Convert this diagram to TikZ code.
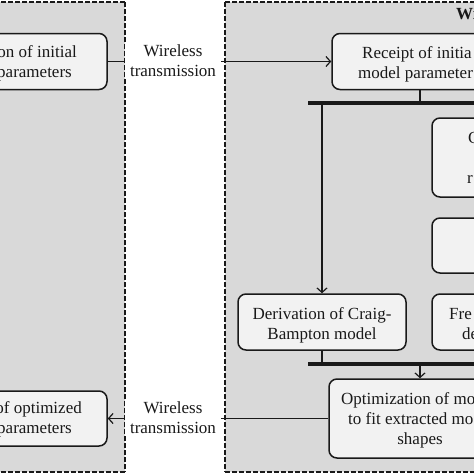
\documentclass[tikz,border=0pt]{standalone}
\usepackage{fontspec}
\setmainfont{Liberation Serif}
\usetikzlibrary{arrows.meta}
\definecolor{bggray}{RGB}{217,217,217}
\definecolor{boxfill}{RGB}{242,242,242}
\definecolor{ink}{RGB}{25,25,25}
\begin{document}
\begin{tikzpicture}[x=1pt,y=-1pt,font=\fontsize{17}{20}\selectfont,
  regionfill/.style={fill=bggray,draw=none},
  hdash/.style={draw=ink,line width=2pt,dash pattern=on 4.5pt off 2.5pt},
  vdash/.style={draw=ink,line width=1.3pt,dash pattern=on 4.5pt off 2.5pt},
  box/.style={draw=ink,fill=boxfill,rounded corners=8pt,line width=1.5pt,inner sep=0pt},
  txt/.style={inner sep=0pt,anchor=base,text=ink},
  txtl/.style={txt,anchor=base west},
  txtr/.style={txt,anchor=base east},
  conn/.style={draw=ink,line width=1.2pt},
  arr/.style={conn,-{Straight Barb[length=4.5pt,width=10pt,line width=1.2pt]}},
  barline/.style={draw=ink,line width=4pt},
  wlabel/.style={fill=white,inner xsep=5pt,inner ysep=1pt,align=center,text=ink}]
\useasboundingbox (0,0) rectangle (474,474);
\clip (0,0) rectangle (474,474);
\fill[white] (0,0) rectangle (474,474);
% regions
\path[regionfill] (-20,2) rectangle (125,472);
\path[regionfill] (225,2) rectangle (500,472);
\draw[hdash] (-20,2) -- (125,2);
\draw[hdash] (-20,472) -- (125,472);
\draw[vdash] (125,2) -- (125,472);
\draw[hdash] (225,2) -- (500,2);
\draw[hdash] (225,472) -- (500,472);
\draw[vdash] (225,2) -- (225,472);
\node[txtl,font=\fontsize{17}{20}\selectfont\bfseries] (title) at (456,19.5) {Wi};
% boxes
\node[box,minimum width=207pt,minimum height=56pt] (l1) at (3.5,61.5) {};
\node[box,minimum width=207pt,minimum height=55pt] (l2) at (3.5,418.5) {};
\node[box,minimum width=176pt,minimum height=56pt] (r) at (420,61.5) {};
\node[box,minimum width=128pt,minimum height=79pt] (c1) at (496,157.5) {};
\node[box,minimum width=128pt,minimum height=55pt] (c2) at (496,245.5) {};
\node[box,minimum width=128pt,minimum height=56pt] (c3) at (496,322) {};
\node[box,minimum width=168pt,minimum height=56pt] (d) at (322,322) {};
\node[box,minimum width=182pt,minimum height=79pt] (o) at (420,418.5) {};
% texts
\node[txtr] (l1a) at (77,57) {on of initial};
\node[txtr] (l1b) at (72,77) {parameters};
\node[txtr] (l2a) at (82,413) {of optimized};
\node[txtr] (l2b) at (72,433) {parameters};
\node[txtl] (ra) at (362,58) {Receipt of initia};
\node[txtl] (rb) at (358,78) {model parameter};
\node[txtl] (c1a) at (468,143) {C};
\node[txtl] (c1c) at (467,183) {r};
\node[txtl] (c3a) at (449,319) {Fre};
\node[txtl] (c3b) at (462,339) {de};
\node[txt] (da) at (322,319) {Derivation of Craig-};
\node[txt] (db) at (322,339) {Bampton model};
\node[txtl] (oa) at (341,404) {Optimization of mo};
\node[txtl] (ob) at (348,424) {to fit extracted mo};
\node[txt] (oc) at (420,444) {shapes};
% bars
\coordinate (b1w) at (308,103);
\coordinate (b1e) at (490,103);
\coordinate (b2w) at (308,364);
\coordinate (b2e) at (490,364);
\draw[barline] (b1w) -- (b1e);
\draw[barline] (b2w) -- (b2e);
% connectors
\draw[arr] (l1.east) -- (r.west);
\node[wlabel] (w1) at (173,60.5) {Wireless\\transmission};
\draw[conn] (r.south) -- (r.south |- b1w);
\draw[arr] (d.north |- b1w) -- (d.north);
\draw[conn] (d.south) -- (d.south |- b2w);
\draw[arr] (o.north |- b2w) -- (o.north);
\draw[arr] (o.west) -- (l2.east);
\node[wlabel] (w2) at (173,417.2) {Wireless\\transmission};
\end{tikzpicture}
\end{document}
